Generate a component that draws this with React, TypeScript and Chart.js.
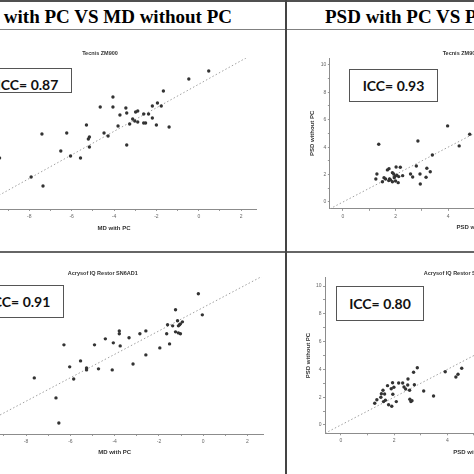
import React, { useEffect, useRef } from "react";
import { Chart, registerables } from "chart.js";

Chart.register(...registerables);

// ---------------- Data ----------------
const HEADERS = ["MD with PC VS MD without PC", "PSD with PC VS PSD without PC"];
const LENS_TITLES = ["Tecnis ZM900", "Acrysof IQ Restor SN6AD1"];
const ICC_VALUES = ["0.87", "0.93", "0.91", "0.80"];
const AXIS_TITLES_X = ["MD with PC", "PSD with PC"];
const AXIS_TITLES_Y = ["MD without PC", "PSD without PC"];

const MD_TICKS = [-12, -11, -10, -9, -8, -7, -6, -5, -4, -3, -2, -1, 0, 1, 2, 3];
const PSD_TICKS = [0, 1, 2, 3, 4, 5, 6, 7, 8, 9, 10];

// MD, Tecnis ZM900
const MD_TECNIS_WITH_PC = [0.47, -0.47, -1.67, -4.05, -4.65, -4.05, -3.44, -3.4, -3.72, -2.98, -2.88, -2.6, -2.37, -2.19, -1.95, -1.77, -2.19, -2.0, -1.4, -3.12, -3.02, -2.88, -2.6, -2.51, -3.26, -3.81, -5.3, -6.23, -7.4, -5.16, -5.21, -4.47, -4.28, -3.4, -5.16, -6.51, -6.05, -5.58, -7.91, -7.35, -9.4];
const MD_TECNIS_WITHOUT_PC = [1.54, 0.84, -0.23, -0.76, -1.65, -1.65, -1.74, -2.18, -2.36, -2.09, -2.0, -2.27, -2.27, -1.56, -1.29, -1.56, -2.63, -3.25, -3.42, -2.71, -2.89, -2.98, -3.07, -3.07, -3.16, -3.34, -3.25, -3.96, -4.05, -4.31, -4.49, -3.96, -4.22, -5.02, -5.2, -5.55, -6.0, -6.17, -7.86, -8.66, -6.17];
const MD_TECNIS_FIT_X = [-10.8, 2.8];
const MD_TECNIS_FIT_Y = [-10.92, 3.3];

// MD, Acrysof IQ Restor SN6AD1
const MD_ACRYSOF_WITH_PC = [-0.22, -0.04, -1.25, -1.16, -0.94, -1.03, -1.07, -1.12, -1.61, -1.38, -1.65, -1.25, -1.12, -1.03, -1.52, -1.96, -2.59, -2.86, -3.35, -3.79, -3.79, -3.75, -4.06, -4.42, -4.91, -6.29, -2.59, -3.17, -4.11, -4.73, -5.27, -5.27, -5.54, -6.03, -5.85, -7.63, -6.65, -6.52];
const MD_ACRYSOF_WITHOUT_PC = [1.27, -0.53, -0.1, -1.04, -1.13, -1.3, -1.38, -1.47, -1.38, -1.47, -2.15, -1.98, -2.07, -2.15, -3.01, -3.35, -1.9, -2.15, -2.49, -1.9, -2.15, -3.18, -2.92, -2.58, -3.09, -3.09, -3.95, -4.72, -5.23, -5.14, -5.06, -5.23, -4.46, -4.97, -6.0, -5.91, -7.62, -9.76];
const MD_ACRYSOF_FIT_X = [-10.8, 2.8];
const MD_ACRYSOF_FIT_Y = [-10.7, 2.9];

// PSD, Tecnis ZM900
const PSD_TECNIS_WITH_PC = [3.98, 4.82, 4.42, 2.85, 1.36, 3.4, 2.79, 3.19, 3.32, 2.93, 3.16, 2.94, 2.57, 2.65, 2.18, 2.02, 1.75, 1.69, 1.29, 1.25, 1.56, 1.5, 1.62, 1.74, 1.77, 1.93, 1.88, 1.98, 2.12, 2.27, 2.0, 2.1, 1.88, 1.81, 1.95, 2.05];
const PSD_TECNIS_WITHOUT_PC = [5.55, 4.94, 4.09, 4.45, 4.21, 3.43, 2.63, 2.46, 2.21, 2.04, 1.8, 1.31, 2.04, 1.82, 2.53, 2.55, 2.43, 2.34, 2.04, 1.68, 1.77, 1.48, 1.68, 1.56, 1.68, 2.04, 2.14, 1.87, 1.85, 1.92, 1.53, 1.41, 1.48, 1.61, 1.77, 1.95];
const PSD_TECNIS_FIT_X = [-0.5, 10.5];
const PSD_TECNIS_FIT_Y = [-0.5, 10.5];

// PSD, Acrysof IQ Restor SN6AD1
const PSD_ACRYSOF_WITH_PC = [2.87, 2.73, 2.52, 2.32, 2.17, 1.94, 1.99, 1.89, 1.75, 1.58, 1.52, 1.64, 1.5, 1.35, 1.27, 1.67, 1.95, 2.08, 2.37, 2.43, 2.51, 2.58, 2.76, 2.59, 2.63, 2.67, 3.11, 3.48, 3.92, 4.32, 4.4, 4.54, 1.79, 1.91, 1.6];
const PSD_ACRYSOF_WITHOUT_PC = [4.12, 3.79, 3.31, 3.02, 3.02, 3.04, 2.71, 2.61, 2.83, 2.5, 2.25, 2.23, 1.99, 1.82, 1.56, 1.78, 2.21, 1.68, 2.73, 2.59, 2.88, 2.5, 2.9, 1.85, 1.68, 1.75, 2.45, 2.09, 3.83, 3.45, 3.65, 4.08, 1.46, 1.35, 1.68];
const PSD_ACRYSOF_FIT_X = [-0.6, 10.6];
const PSD_ACRYSOF_FIT_Y = [-0.6, 10.6];

// ---------------- Panels ----------------
type Panel = {
  left: number; top: number; width: number; height: number;
  title: string; xs: number[]; ys: number[]; fitX: number[]; fitY: number[];
  xMin: number; xMax: number; yMin: number; yMax: number;
  xTicks: number[]; yTicks: number[]; xTitle: string; yTitle: string;
  yAxisW: number; xAxisH: number; padRight: number;
  tPadTop: number; tPadBottom: number; xTitlePadB: number; yTitlePadT: number; xTickPad: number;
};

const PANELS: Panel[] = [
  {
    left: -60, top: 40, width: 320, height: 200, title: LENS_TITLES[0],
    xs: MD_TECNIS_WITH_PC, ys: MD_TECNIS_WITHOUT_PC, fitX: MD_TECNIS_FIT_X, fitY: MD_TECNIS_FIT_Y,
    xMin: -10.7, xMax: 2.7, yMin: -10.7, yMax: 2.7, xTicks: MD_TICKS, yTicks: MD_TICKS,
    xTitle: AXIS_TITLES_X[0], yTitle: AXIS_TITLES_Y[0],
    yAxisW: 32, xAxisH: 31, padRight: 0, tPadTop: 9.7, tPadBottom: 1.7, xTitlePadB: 8.4, yTitlePadT: 4, xTickPad: 3,
  },
  {
    left: 302, top: 40, width: 328, height: 200, title: LENS_TITLES[0],
    xs: PSD_TECNIS_WITH_PC, ys: PSD_TECNIS_WITHOUT_PC, fitX: PSD_TECNIS_FIT_X, fitY: PSD_TECNIS_FIT_Y,
    xMin: -0.5, xMax: 10.5, yMin: -0.5, yMax: 10.5, xTicks: PSD_TICKS, yTicks: PSD_TICKS,
    xTitle: AXIS_TITLES_X[1], yTitle: AXIS_TITLES_Y[1],
    yAxisW: 27.85, xAxisH: 31.15, padRight: 11, tPadTop: 9.7, tPadBottom: 1.7, xTitlePadB: 9.4, yTitlePadT: 6.4, xTickPad: 3,
  },
  {
    left: -61, top: 260, width: 328, height: 210, title: LENS_TITLES[1],
    xs: MD_ACRYSOF_WITH_PC, ys: MD_ACRYSOF_WITHOUT_PC, fitX: MD_ACRYSOF_FIT_X, fitY: MD_ACRYSOF_FIT_Y,
    xMin: -10.7, xMax: 2.7, yMin: -10.7, yMax: 2.7, xTicks: MD_TICKS, yTicks: MD_TICKS,
    xTitle: AXIS_TITLES_X[0], yTitle: AXIS_TITLES_Y[0],
    yAxisW: 27.3, xAxisH: 36, padRight: 0.5, tPadTop: 9.7, tPadBottom: 0.7, xTitlePadB: 14.4, yTitlePadT: 4, xTickPad: 3,
  },
  {
    left: 300, top: 260, width: 324, height: 210, title: LENS_TITLES[1],
    xs: PSD_ACRYSOF_WITH_PC, ys: PSD_ACRYSOF_WITHOUT_PC, fitX: PSD_ACRYSOF_FIT_X, fitY: PSD_ACRYSOF_FIT_Y,
    xMin: -0.6, xMax: 10.4, yMin: -0.6, yMax: 10.6, xTicks: PSD_TICKS, yTicks: PSD_TICKS,
    xTitle: AXIS_TITLES_X[1], yTitle: AXIS_TITLES_Y[1],
    yAxisW: 25, xAxisH: 36.7, padRight: 6.4, tPadTop: 9.7, tPadBottom: 1.4, xTitlePadB: 14.4, yTitlePadT: 4.4, xTickPad: 2,
  },
];

const ICC_BOXES = [
  { left: -17, top: 68, width: 89, height: 25, padTop: 9 },
  { left: 349, top: 69, width: 89, height: 33, padTop: 0 },
  { left: -25, top: 285, width: 89, height: 33, padTop: 0 },
  { left: 336, top: 286, width: 88, height: 35, padTop: 0 },
];

const labelEven = (v: any) => (Math.abs(Number(v) % 2) < 1e-9 ? String(v) : "");

function makeAxis(min: number, max: number, ticks: number[], title: string, isX: boolean, size: number, titlePad: any, tickPad: number) {
  return {
    type: "linear" as const,
    min,
    max,
    afterBuildTicks: (s: any) => {
      s.ticks = ticks.filter((v) => v >= min - 1e-9 && v <= max + 1e-9).map((v) => ({ value: v }));
    },
    afterFit: (s: any) => {
      if (isX) s.height = size;
      else s.width = size;
    },
    ticks: {
      autoSkip: false,
      maxRotation: 0,
      minRotation: 0,
      padding: tickPad,
      font: { size: 5, family: "'Liberation Sans', sans-serif" },
      color: "#666",
      callback: labelEven,
    },
    grid: { display: true, drawOnChartArea: false, drawTicks: true, tickLength: 2, color: "#9a9a9a" },
    border: { display: true, color: "#8c8c8c", width: 1 },
    title: {
      display: true,
      text: title,
      font: { size: 6, weight: "bold" as const, family: "'Liberation Sans', sans-serif" },
      color: "#333",
      padding: titlePad,
    },
  };
}

function ScatterPanel({ p }: { p: Panel }) {
  const ref = useRef<HTMLCanvasElement>(null);
  useEffect(() => {
    const points = p.xs.map((x, i) => ({ x, y: p.ys[i] }));
    const fit = p.fitX.map((x, i) => ({ x, y: p.fitY[i] }));
    const chart = new Chart(ref.current as HTMLCanvasElement, {
      type: "scatter",
      data: {
        datasets: [
          {
            type: "line" as any,
            data: fit,
            borderColor: "#a0a0a0",
            borderWidth: 1,
            borderDash: [1.5, 2.2],
            pointRadius: 0,
            fill: false,
            order: 2,
          } as any,
          {
            data: points,
            pointRadius: 1.7,
            backgroundColor: "#333",
            borderColor: "#333",
            borderWidth: 0,
            order: 1,
          } as any,
        ],
      },
      options: {
        responsive: false,
        animation: false,
        devicePixelRatio: 1,
        events: [],
        layout: { padding: { left: 0, right: p.padRight, top: 0, bottom: 0 } },
        plugins: {
          legend: { display: false },
          tooltip: { enabled: false },
          title: {
            display: true,
            text: p.title,
            font: { size: 5.5, weight: "bold", family: "'Liberation Sans', sans-serif" },
            color: "#333",
            padding: { top: p.tPadTop, bottom: p.tPadBottom },
          },
        },
        scales: {
          x: makeAxis(p.xMin, p.xMax, p.xTicks, p.xTitle, true, p.xAxisH, { top: 0, bottom: p.xTitlePadB }, p.xTickPad),
          y: makeAxis(p.yMin, p.yMax, p.yTicks, p.yTitle, false, p.yAxisW, { top: p.yTitlePadT, bottom: 0 }, 1.5),
        },
      } as any,
    });
    return () => chart.destroy();
  }, [p]);
  return (
    <canvas
      ref={ref}
      width={p.width}
      height={p.height}
      style={{ position: "absolute", left: p.left, top: p.top, width: p.width, height: p.height }}
    />
  );
}

export default function App() {
  const headerFont = "bold 19px 'Liberation Serif', 'Times New Roman', serif";
  return (
    <div
      style={{
        position: "fixed",
        left: 0,
        top: 0,
        width: 474,
        height: 474,
        overflow: "hidden",
        background: "#fff",
      }}
    >
      {PANELS.map((p, i) => (
        <ScatterPanel key={i} p={p} />
      ))}

      {ICC_BOXES.map((b, i) => (
        <div
          key={"icc" + i}
          style={{
            position: "absolute",
            left: b.left,
            top: b.top,
            width: b.width,
            height: b.height,
            boxSizing: "border-box",
            border: "1px solid #555",
            background: "#fff",
            display: "flex",
            alignItems: "center",
            justifyContent: "center",
            paddingTop: b.padTop,
            font: "bold 14px Lato, 'Open Sans', sans-serif",
            lineHeight: "14px",
            color: "#111",
            whiteSpace: "nowrap",
          }}
        >
          {"ICC= " + ICC_VALUES[i]}
        </div>
      ))}

      {/* table lines */}
      <div style={{ position: "absolute", left: 0, top: 0, width: 474, height: 2, background: "#505050" }} />
      <div style={{ position: "absolute", left: 0, top: 29, width: 474, height: 1, background: "#808080" }} />
      <div style={{ position: "absolute", left: 0, top: 251, width: 474, height: 2, background: "#666" }} />
      <div style={{ position: "absolute", left: 285, top: 0, width: 2, height: 474, background: "#444" }} />

      {/* headers */}
      <div
        style={{
          position: "absolute",
          right: 474 - 232,
          top: 7,
          font: headerFont,
          lineHeight: "19px",
          whiteSpace: "nowrap",
          color: "#000",
        }}
      >
        {HEADERS[0]}
      </div>
      <div
        style={{
          position: "absolute",
          left: 325,
          top: 7,
          font: headerFont,
          lineHeight: "19px",
          whiteSpace: "nowrap",
          color: "#000",
        }}
      >
        {HEADERS[1]}
      </div>
    </div>
  );
}
